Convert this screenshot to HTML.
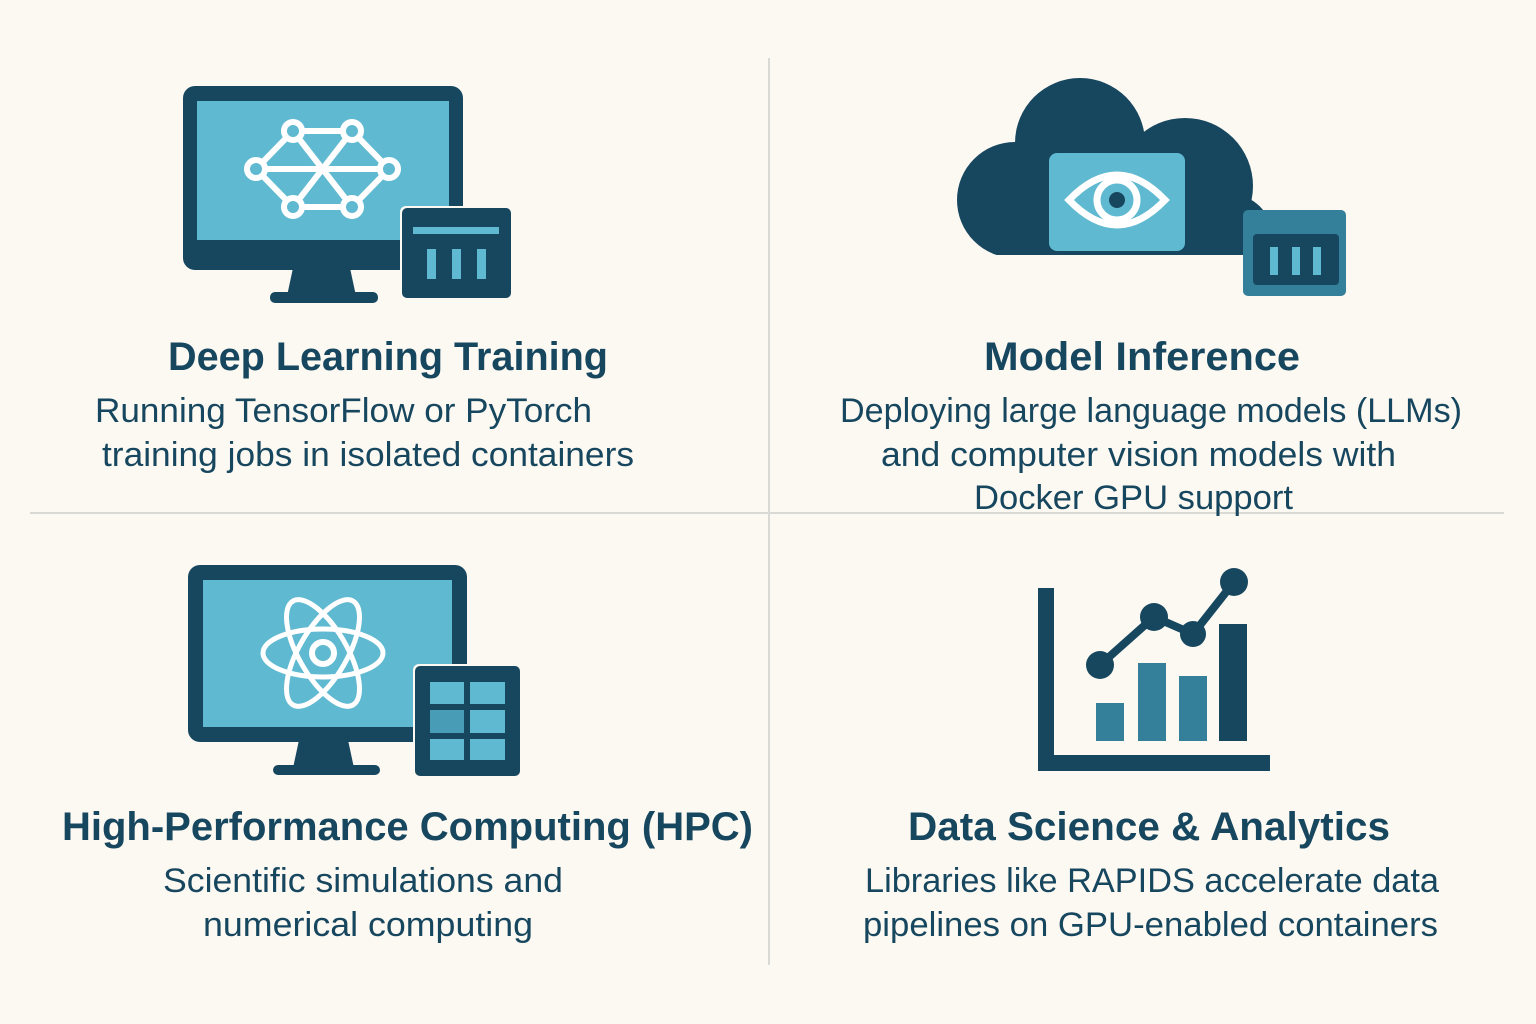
<!DOCTYPE html>
<html><head><meta charset="utf-8"><style>
html,body{margin:0;padding:0;background:#fcf8f2;}
svg{display:block;}
text{font-family:"Liberation Sans",sans-serif;fill:#17475f;}
.t{font-size:40px;font-weight:bold;}
.d{font-size:34px;}
</style></head><body>
<svg width="1536" height="1024" viewBox="0 0 1536 1024">
<defs><clipPath id="cc"><rect x="900" y="60" width="420" height="195"/></clipPath></defs>
<rect width="1536" height="1024" fill="#fcf8f2"/>
<line x1="769" y1="58" x2="769" y2="965" stroke="#d9d9d6" stroke-width="2"/>
<line x1="30" y1="513" x2="1504" y2="513" stroke="#d9d9d6" stroke-width="2"/>

<rect x="183" y="86" width="280" height="184" rx="12" fill="#17475f"/>
<rect x="197" y="101" width="252" height="139" fill="#5fb9d0"/>
<polygon points="293,268 350,268 356,296 287,296" fill="#17475f"/>
<rect x="270" y="292" width="108" height="11" rx="5" fill="#17475f"/>
<g stroke="#fff" stroke-width="6" fill="none">
<path d="M293,131 L352,131 M256,169 L389,169 M293,207 L352,207 M293,131 L256,169 L293,207 M352,131 L389,169 L352,207 M293,131 L352,207 M352,131 L293,207"/>
</g>
<g fill="#5fb9d0" stroke="#fff" stroke-width="6">
<circle cx="293" cy="131" r="9"/><circle cx="352" cy="131" r="9"/><circle cx="256" cy="169" r="9"/><circle cx="389" cy="169" r="9"/><circle cx="293" cy="207" r="9"/><circle cx="352" cy="207" r="9"/>
</g>
<rect x="400" y="206" width="113" height="94" rx="6" fill="#fcf8f2"/>
<rect x="402" y="208" width="109" height="90" rx="5" fill="#17475f"/>
<rect x="413" y="227" width="86" height="7" fill="#5fb9d0"/>
<rect x="427" y="249" width="9" height="30" fill="#5fb9d0"/>
<rect x="452" y="249" width="9" height="30" fill="#5fb9d0"/>
<rect x="477" y="249" width="9" height="30" fill="#5fb9d0"/>

<g fill="#17475f" clip-path="url(#cc)">
<circle cx="1080" cy="143" r="65"/>
<circle cx="1185" cy="186" r="68"/>
<circle cx="1015" cy="200" r="58"/>
<circle cx="1230" cy="236" r="42"/>
<rect x="1015" y="150" width="215" height="105"/>
</g>
<rect x="1049" y="153" width="136" height="98" rx="8" fill="#5fb9d0"/>
<path d="M1069,200 Q1117,150 1165,200 Q1117,250 1069,200 Z" fill="none" stroke="#fff" stroke-width="7"/>
<circle cx="1117" cy="200" r="20" fill="#5fb9d0" stroke="#fff" stroke-width="7"/>
<circle cx="1117" cy="200" r="8" fill="#17475f"/>
<rect x="1243" y="210" width="103" height="86" rx="5" fill="#347f99"/>
<rect x="1253" y="234" width="86" height="51" rx="4" fill="#17475f"/>
<rect x="1270" y="247" width="8" height="28" fill="#5fb9d0"/>
<rect x="1292" y="247" width="8" height="28" fill="#5fb9d0"/>
<rect x="1313" y="247" width="8" height="28" fill="#5fb9d0"/>

<rect x="188" y="565" width="279" height="177" rx="12" fill="#17475f"/>
<rect x="203" y="580" width="249" height="147" fill="#5fb9d0"/>
<polygon points="299,740 348,740 354,768 293,768" fill="#17475f"/>
<rect x="273" y="765" width="107" height="10" rx="5" fill="#17475f"/>
<g fill="none" stroke="#fff" stroke-width="5">
<ellipse cx="323" cy="653" rx="60" ry="24"/>
<ellipse cx="323" cy="653" rx="60" ry="24" transform="rotate(60 323 653)"/>
<ellipse cx="323" cy="653" rx="60" ry="24" transform="rotate(-60 323 653)"/>
<circle cx="323" cy="653" r="11" fill="#5fb9d0" stroke-width="6"/>
</g>
<rect x="413" y="664" width="109" height="114" rx="6" fill="#fcf8f2"/>
<rect x="415" y="666" width="105" height="110" rx="5" fill="#17475f"/>
<g fill="#5fb9d0">
<rect x="430" y="682" width="34" height="22"/><rect x="470" y="682" width="35" height="22"/>
<rect x="430" y="710" width="34" height="23"/><rect x="470" y="710" width="35" height="23"/>
<rect x="430" y="739" width="34" height="21"/><rect x="470" y="739" width="35" height="21"/>
</g>
<rect x="430" y="710" width="34" height="23" fill="#347f99" opacity="0.5"/>

<rect x="1038" y="588" width="16" height="183" fill="#17475f"/>
<rect x="1038" y="755" width="232" height="16" fill="#17475f"/>
<rect x="1096" y="703" width="28" height="38" fill="#347f99"/>
<rect x="1138" y="663" width="28" height="78" fill="#347f99"/>
<rect x="1179" y="676" width="28" height="65" fill="#347f99"/>
<rect x="1219" y="624" width="28" height="117" fill="#17475f"/>
<polyline points="1100,665 1154,617 1193,634 1234,582" fill="none" stroke="#17475f" stroke-width="8"/>
<g fill="#17475f"><circle cx="1100" cy="665" r="14"/><circle cx="1154" cy="617" r="14"/><circle cx="1193" cy="634" r="13"/><circle cx="1234" cy="582" r="14"/></g>

<text class="t" x="168" y="370" textLength="440" lengthAdjust="spacingAndGlyphs">Deep Learning Training</text>
<text class="d" x="95" y="422" textLength="497" lengthAdjust="spacingAndGlyphs">Running TensorFlow or PyTorch</text>
<text class="d" x="102" y="466" textLength="532" lengthAdjust="spacingAndGlyphs">training jobs in isolated containers</text>

<text class="t" x="984" y="370" textLength="316" lengthAdjust="spacingAndGlyphs">Model Inference</text>
<text class="d" x="840" y="422" textLength="622" lengthAdjust="spacingAndGlyphs">Deploying large language models (LLMs)</text>
<text class="d" x="881" y="466" textLength="515" lengthAdjust="spacingAndGlyphs">and computer vision models with</text>
<text class="d" x="974" y="509" textLength="319" lengthAdjust="spacingAndGlyphs">Docker GPU support</text>

<text class="t" x="62" y="840" textLength="691" lengthAdjust="spacingAndGlyphs">High-Performance Computing (HPC)</text>
<text class="d" x="163" y="892" textLength="400" lengthAdjust="spacingAndGlyphs">Scientific simulations and</text>
<text class="d" x="203" y="936" textLength="330" lengthAdjust="spacingAndGlyphs">numerical computing</text>

<text class="t" x="908" y="840" textLength="482" lengthAdjust="spacingAndGlyphs">Data Science &amp; Analytics</text>
<text class="d" x="865" y="892" textLength="574" lengthAdjust="spacingAndGlyphs">Libraries like RAPIDS accelerate data</text>
<text class="d" x="863" y="936" textLength="575" lengthAdjust="spacingAndGlyphs">pipelines on GPU-enabled containers</text>
</svg>
</body></html>
